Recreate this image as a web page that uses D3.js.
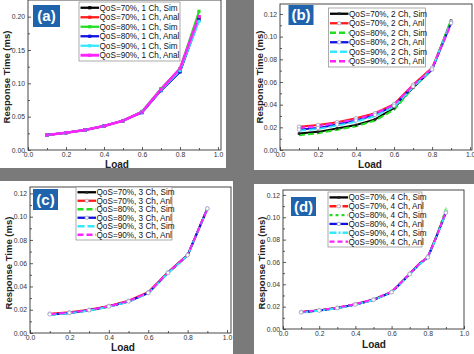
<!DOCTYPE html>
<html><head><meta charset="utf-8">
<script src="https://cdn.jsdelivr.net/npm/d3@7"></script>
<style>body{margin:0;background:#7a7a7a}svg{display:block}</style>
</head><body><svg id="c" width="474" height="354"></svg>
<script>
// ---------- data ----------
const loads = [0.1,0.2,0.3,0.4,0.5,0.6,0.7,0.8,0.9];
const loadsD = [0.1,0.2,0.3,0.4,0.5,0.6,0.65,0.7,0.75,0.8,0.85,0.9];
const xTicks = [0,0.2,0.4,0.6,0.8,1.0];

// (a) 1 channel
const a70Sim = [0.0225,0.026,0.030,0.036,0.044,0.057,0.090,0.118,0.197];
const a70Anl = [0.0225,0.026,0.030,0.036,0.044,0.057,0.091,0.121,0.200];
const a80Sim = [0.0225,0.026,0.030,0.036,0.044,0.058,0.092,0.122,0.208];
const a80Anl = [0.0225,0.026,0.030,0.036,0.044,0.056,0.089,0.117,0.195];
const a90Sim = [0.0225,0.026,0.030,0.036,0.044,0.057,0.090,0.119,0.193];
const a90Anl = [0.0225,0.026,0.030,0.036,0.044,0.057,0.091,0.122,0.200];
const aLabels = ["QoS=70%, 1 Ch, Sim","QoS=70%, 1 Ch, Anal","QoS=80%, 1 Ch, Sim","QoS=80%, 1 Ch, Anal","QoS=90%, 1 Ch, Sim","QoS=90%, 1 Ch, Anal"];
const aYTicks = [0,0.05,0.10,0.15,0.20];

// (b) 2 channels
const b70Sim = [0.0145,0.0160,0.0190,0.0220,0.0270,0.0370,0.0550,0.0710,0.1140];
const b70Anl = [0.0205,0.0220,0.0245,0.0280,0.0325,0.0405,0.0575,0.0725,0.1130];
const b80Sim = [0.0130,0.0148,0.0178,0.0210,0.0260,0.0355,0.0550,0.0710,0.1150];
const b80Anl = [0.0180,0.0195,0.0225,0.0260,0.0310,0.0390,0.0560,0.0710,0.1120];
const b90Sim = [0.0170,0.0185,0.0215,0.0250,0.0300,0.0380,0.0555,0.0715,0.1130];
const b90Anl = [0.0195,0.0210,0.0240,0.0270,0.0320,0.0400,0.0570,0.0720,0.1110];
const bLabels = ["QoS=70%, 2 Ch, Sim","QoS=70%, 2 Ch, Anl","QoS=80%, 2 Ch, Sim","QoS=80%, 2 Ch, Anl","QoS=90%, 2 Ch, Sim","QoS=90%, 2 Ch, Anl"];

// (c) 3 channels
const c70Sim = [0.0160,0.0172,0.0195,0.0228,0.0272,0.0345,0.0518,0.0670,0.1070];
const c70Anl = [0.0166,0.0178,0.0200,0.0233,0.0277,0.0350,0.0522,0.0672,0.1070];
const c80Sim = [0.0158,0.0170,0.0193,0.0226,0.0270,0.0343,0.0516,0.0668,0.1068];
const c80Anl = [0.0160,0.0172,0.0195,0.0228,0.0271,0.0344,0.0517,0.0669,0.1070];
const c90Sim = [0.0157,0.0169,0.0192,0.0225,0.0269,0.0342,0.0515,0.0667,0.1068];
const c90Anl = [0.0162,0.0174,0.0197,0.0230,0.0274,0.0347,0.0520,0.0670,0.1068];
const cLabels = ["QoS=70%, 3 Ch, Sim","QoS=70%, 3 Ch, Anl","QoS=80%, 3 Ch, Sim","QoS=80%, 3 Ch, Anl","QoS=90%, 3 Ch, Sim","QoS=90%, 3 Ch, Anl"];

// (d) 4 channels
const d70Sim = [0.0150,0.0166,0.0188,0.0220,0.0262,0.0330,0.0410,0.0492,0.0578,0.0642,0.0836,0.1045];
const d70Anl = [0.0152,0.0168,0.0190,0.0222,0.0264,0.0332,0.0412,0.0495,0.0580,0.0646,0.0838,0.1048];
const d80Sim = [0.0150,0.0166,0.0188,0.0221,0.0263,0.0331,0.0410,0.0490,0.0575,0.0640,0.0840,0.1070];
const d80Anl = [0.0149,0.0165,0.0187,0.0219,0.0261,0.0329,0.0409,0.0491,0.0577,0.0641,0.0835,0.1040];
const d90Sim = [0.0147,0.0163,0.0185,0.0217,0.0259,0.0327,0.0406,0.0488,0.0572,0.0637,0.0832,0.1040];
const d90Anl = [0.0153,0.0169,0.0191,0.0223,0.0265,0.0333,0.0413,0.0495,0.0580,0.0645,0.0838,0.1050];
const dLabels = ["QoS=70%, 4 Ch, Sim","QoS=70%, 4 Ch, Anl","QoS=80%, 4 Ch, Sim","QoS=80%, 4 Ch, Anl","QoS=90%, 4 Ch, Sim","QoS=90%, 4 Ch, Anl"];
const bcdYTicks = [0,0.02,0.04,0.06,0.08,0.10,0.12];

const colors = ["#000000","#ff1a1a","#22dd22","#1010e0","#33e8ff","#ff22ff"];

// ---------- layout / style ----------
const panels = [
  {tag:"(a)", bg:[0,0,226,168], frame:[28,0,221,150], xd:[0,1.016], yd:[0,0.225], yt:aYTicks, ymin:0.025, yfmt:".2f",
   x:loads, ys:[a70Sim,a70Anl,a80Sim,a80Anl,a90Sim,a90Anl], labels:aLabels,
   dash:[null,null,null,null,null,null], lw:[2,2,2,2,2,2.6], mk:"sq",
   leg:[79,2,101,59], tagBox:[33,5,27,22], ytitle:[7,77], xtitle:[117,168]},
  {tag:"(b)", bg:[254,0,220,170], frame:[280,4,472,150], xd:[0,1.01], yd:[0,0.1288], yt:bcdYTicks, ymin:0.01, yfmt:".2f",
   x:loads, ys:[b70Sim,b70Anl,b80Sim,b80Anl,b90Sim,b90Anl], labels:bLabels,
   dash:[null,null,"6,3",null,"7,3","6,3"], lw:[2,2,2,2,2,2], mk:"mix",
   leg:[328.5,8,97,59], tagBox:[288.5,5,25,20], ytitle:[260,77], xtitle:[370,168]},
  {tag:"(c)", bg:[0,181,233,173], frame:[30,187,231,333], xd:[0,1.02], yd:[0,0.1255], yt:bcdYTicks, ymin:0.01, yfmt:".2f",
   x:loads, ys:[c70Sim,c70Anl,c80Sim,c80Anl,c90Sim,c90Anl], labels:cLabels,
   dash:[null,null,"6,3",null,"7,3","6,3"], lw:[2,2,2,2,2,2], mk:"mix",
   leg:[76,187,96,53], tagBox:[33,189,25,21], ytitle:[9,263], xtitle:[123,351]},
  {tag:"(d)", bg:[254,184,220,170], frame:[283,190,464,329], xd:[0,1.0], yd:[0,0.1244], yt:bcdYTicks, ymin:0.01, yfmt:".2f",
   x:loadsD, ys:[d70Sim,d70Anl,d80Sim,d80Anl,d90Sim,d90Anl], labels:dLabels,
   dash:[null,"7,2,2,2","3,3",null,"7,2,2,2","5,3"], lw:[2,2,2,2,2,2], mk:"mixd",
   leg:[328,192,94,55], tagBox:[291,197,25,19], ytitle:[262,263], xtitle:[374,348]}
];

const svg = d3.select("#c");
svg.append("rect").attr("width",474).attr("height",354).attr("fill","#7a7a7a");
const FONT = "'Liberation Sans', Arial, sans-serif";

panels.forEach(p => {
  const g = svg.append("g");
  g.append("rect").attr("x",p.bg[0]).attr("y",p.bg[1]).attr("width",p.bg[2]).attr("height",p.bg[3]).attr("fill","#ffffff");
  const [x0,y0,x1,y1] = p.frame;
  const xs = d3.scaleLinear().domain(p.xd).range([x0,x1]);
  const ysc = d3.scaleLinear().domain(p.yd).range([y1,y0]);

  // axes
  const xAx = d3.axisBottom(xs).tickValues(xTicks).tickFormat(d3.format(".1f")).tickSizeInner(-3).tickSizeOuter(0).tickPadding(2);
  const xMinor = d3.axisBottom(xs).tickValues(d3.range(0.1,1.0,0.2)).tickFormat("").tickSizeInner(-2).tickSizeOuter(0);
  const yAx = d3.axisLeft(ysc).tickValues(p.yt).tickFormat(d3.format(p.yfmt)).tickSizeInner(-3).tickSizeOuter(0).tickPadding(3);
  const yMinorVals = d3.range(p.ymin, p.yd[1], p.ymin*2);
  const yMinor = d3.axisLeft(ysc).tickValues(yMinorVals).tickFormat("").tickSizeInner(-2).tickSizeOuter(0);
  [[xAx,"b"],[xMinor,"b"],[yAx,"l"],[yMinor,"l"]].forEach(([ax,side]) => {
    const a = g.append("g").attr("transform", side==="b" ? `translate(0,${y1})` : `translate(${x0},0)`).call(ax);
    a.select(".domain").remove();
    a.selectAll("line").attr("stroke","#333").attr("stroke-width",0.8);
    a.selectAll("text").attr("font-family",FONT).attr("font-size",6.8).attr("fill","#333");
  });

  // lines
  const clip = "clip"+p.tag.replace(/\W/g,"");
  g.append("clipPath").attr("id",clip).append("rect").attr("x",x0).attr("y",y0).attr("width",x1-x0).attr("height",y1-y0);
  const line = d3.line().x((d,i)=>xs(p.x[i])).y(d=>ysc(d));
  p.ys.forEach((vals,k) => {
    g.append("path").attr("d",line(vals)).attr("fill","none").attr("stroke",colors[k])
      .attr("stroke-width",p.lw[k]).attr("stroke-dasharray",p.dash[k]).attr("clip-path",`url(#${clip})`);
  });
  // markers
  p.ys.forEach((vals,k) => {
    const pts = vals.map((v,i)=>[xs(p.x[i]),ysc(v)]);
    if (p.mk==="sq") {
      g.selectAll(null).data(pts).enter().append("rect").attr("x",d=>d[0]-1.6).attr("y",d=>d[1]-1.6)
        .attr("width",3.2).attr("height",3.2).attr("fill",colors[k]);
    } else {
      const useIdx = p.x.map((v,i)=>i).filter(i => Math.abs(p.x[i]*10-Math.round(p.x[i]*10))<1e-6);
      useIdx.forEach(i => {
        const [cx,cy] = pts[i];
        if (k===0) g.append("rect").attr("x",cx-1.3).attr("y",cy-1.3).attr("width",2.6).attr("height",2.6).attr("fill","#222");
        else if (k===1||k===3) g.append("circle").attr("cx",cx).attr("cy",cy).attr("r",1.8).attr("fill","#fff").attr("stroke","#a0a0c8").attr("stroke-width",0.8);
        else if (k===2 && p.mk==="mixd") g.append("path").attr("transform",`translate(${cx},${cy})`).attr("d",d3.symbol(d3.symbolTriangle,10)()).attr("fill","#99ee99");
      });
    }
  });
  // frame
  g.append("rect").attr("x",x0).attr("y",y0).attr("width",x1-x0).attr("height",y1-y0).attr("fill","none").attr("stroke","#333").attr("stroke-width",0.9);

  // tag box
  const [tx,ty,tw,th] = p.tagBox;
  g.append("rect").attr("x",tx).attr("y",ty).attr("width",tw).attr("height",th).attr("fill","#1f63ad");
  g.append("text").attr("x",tx+tw/2).attr("y",ty+th/2+5).attr("text-anchor","middle").attr("fill","#fff")
    .attr("font-family",FONT).attr("font-weight","bold").attr("font-size",15).text(p.tag);

  // legend
  const [lx,ly,lw,lh] = p.leg;
  g.append("rect").attr("x",lx).attr("y",ly).attr("width",lw).attr("height",lh).attr("fill","#fff").attr("stroke","#888").attr("stroke-width",0.7);
  const rowH = (lh-2)/6;
  p.labels.forEach((lab,k) => {
    const cy = ly + 1 + rowH*(k+0.5);
    const sx0 = lx+1.5, sx1 = lx+20;
    g.append("line").attr("x1",sx0).attr("x2",sx1).attr("y1",cy).attr("y2",cy).attr("stroke",colors[k])
      .attr("stroke-width",p.lw[k]+0.3).attr("stroke-dasharray",p.dash[k]);
    const mx = (sx0+sx1)/2;
    if (p.mk==="sq") g.append("rect").attr("x",mx-1.6).attr("y",cy-1.6).attr("width",3.2).attr("height",3.2).attr("fill",colors[k]);
    else if (k===0) g.append("rect").attr("x",mx-1.3).attr("y",cy-1.3).attr("width",2.6).attr("height",2.6).attr("fill","#222");
    else if (k===1||k===3) g.append("circle").attr("cx",mx).attr("cy",cy).attr("r",1.7).attr("fill","#fff").attr("stroke","#a0a0c8").attr("stroke-width",0.8);
    g.append("text").attr("x",sx1+0.5).attr("y",cy+3).attr("font-family",FONT).attr("font-size",8.2).attr("fill","#111").text(lab);
  });

  // axis titles
  g.append("text").attr("transform",`translate(${p.ytitle[0]},${p.ytitle[1]}) rotate(-90)`).attr("text-anchor","middle")
    .attr("dy","0.35em").attr("font-family",FONT).attr("font-weight","bold").attr("font-size",9.5).attr("fill","#222").text("Response Time (ms)");
  g.append("text").attr("x",p.xtitle[0]).attr("y",p.xtitle[1]).attr("text-anchor","middle")
    .attr("font-family",FONT).attr("font-weight","bold").attr("font-size",10).attr("fill","#222").text("Load");
});
</script></body></html>
